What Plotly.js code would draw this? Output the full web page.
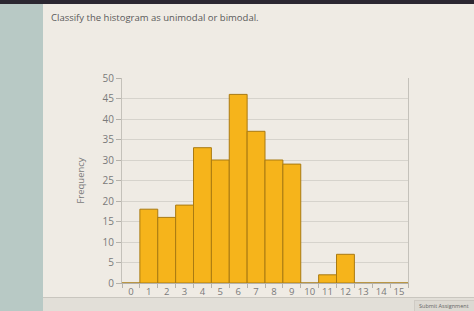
<!DOCTYPE html>
<html>
<head>
<meta charset="utf-8">
<script src="https://cdn.plot.ly/plotly-3.0.1.min.js"></script>
<style>
  html, body { margin:0; padding:0; width:474px; height:311px; overflow:hidden; background:#efebe4; font-family:"Open Sans", "DejaVu Sans", sans-serif; }
  #topbar { position:absolute; left:0; top:0; width:474px; height:4px; background:#2b2731; z-index:5; }
  #leftstrip { position:absolute; left:0; top:0; width:43px; height:311px; background:#b8c9c5; z-index:4; }
  #title { position:absolute; left:51px; top:11px; font-size:9.5px; color:#5a5a5a; z-index:5; }
  #bottom { position:absolute; left:43px; top:297px; width:431px; height:14px; background:#e2dfd8; border-top:1px solid #c9c6bf; z-index:5; }
  #submit { position:absolute; left:414px; top:300px; width:60px; height:11px; overflow:hidden; white-space:nowrap; background:#dcd9d2; border-left:1px solid #cfcbc4; border-top:1px solid #cfcbc4; font-size:5.5px; color:#666; padding-left:4px; line-height:11px; z-index:6; box-sizing:border-box; }
  #chart { position:absolute; left:0; top:0; width:474px; height:311px; z-index:3; }
</style>
</head>
<body>
<div id="topbar"></div>
<div id="leftstrip"></div>
<div id="title">Classify the histogram as unimodal or bimodal.</div>
<div id="chart"></div>
<div id="bottom"></div>
<div id="submit">Submit Assignment</div>
<script>
const binStarts = [0,1,2,3,4,5,6,7,8,9,10,11,12,13,14,15];
const frequencies = [0,18,16,19,33,30,46,37,30,29,0,2,7,0,0,0];
const tickLabels = ["0","1","2","3","4","5","6","7","8","9","10","11","12","13","14","15"];
const yTicks = [0,5,10,15,20,25,30,35,40,45,50];

const centers = binStarts.map(b => b + 0.5);

Plotly.newPlot('chart', [{
  type: 'bar',
  x: centers,
  y: frequencies,
  width: 1,
  marker: { color: '#f6b41b', line: { color: '#a97a12', width: 1 } },
  hoverinfo: 'skip'
}], {
  width: 474, height: 311,
  margin: { l: 122, r: 66, t: 78, b: 28 },
  paper_bgcolor: 'rgba(0,0,0,0)',
  plot_bgcolor: 'rgba(0,0,0,0)',
  showlegend: false,
  bargap: 0,
  xaxis: {
    range: [0, 16],
    tickmode: 'array',
    tickvals: centers,
    ticktext: tickLabels,
    ticks: '',
    showgrid: false,
    zeroline: false,
    showline: true,
    linecolor: '#b5b2ab',
    linewidth: 1,
    tickfont: { size: 9.5, color: '#7a7a7a', family: '"Open Sans", sans-serif' },
    minor: { tickmode: 'linear', tick0: 0, dtick: 1, ticks: 'outside', ticklen: 4, tickcolor: '#b5b2ab', showgrid: false },
    fixedrange: true
  },
  yaxis: {
    range: [0, 50],
    tickmode: 'array',
    tickvals: yTicks,
    ticks: 'outside',
    ticklen: 5,
    tickcolor: '#b5b2ab',
    showgrid: true,
    gridcolor: '#d6d3cc',
    zeroline: false,
    showline: true,
    mirror: true,
    linecolor: '#c4c1ba',
    tickfont: { size: 10, color: '#7a7a7a', family: '"Open Sans", sans-serif' },
    title: { text: 'Frequency', font: { size: 9.5, color: '#7a7a7a', family: '"Open Sans", sans-serif' }, standoff: 16 },
    fixedrange: true
  }
}, { displayModeBar: false, staticPlot: true });
</script>
</body>
</html>
